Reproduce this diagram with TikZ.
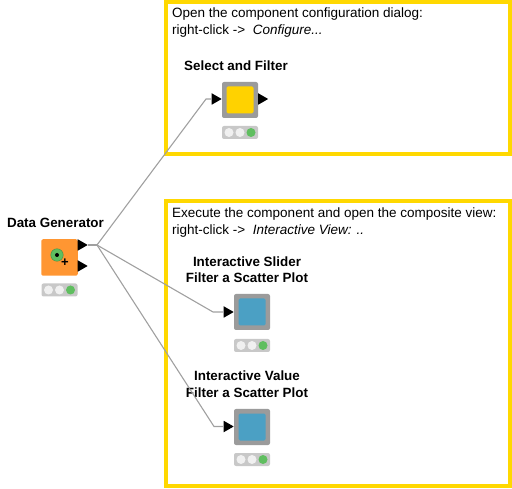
\documentclass[tikz,border=0pt]{standalone}
\usepackage{fontspec}
\usepackage{xcolor}
\setmainfont{Liberation Sans}
\usetikzlibrary{shapes.geometric}
\definecolor{kngold}{RGB}{255,216,0}
\definecolor{knyellow}{RGB}{255,210,0}
\definecolor{knorange}{RGB}{255,150,50}
\definecolor{knblue}{RGB}{75,160,196}
\definecolor{kngray}{RGB}{155,155,155}
\definecolor{knlight}{RGB}{200,200,200}
\definecolor{kndot}{RGB}{240,240,240}
\definecolor{kngreen}{RGB}{95,190,95}
\definecolor{knwire}{RGB}{160,160,160}
\tikzset{
  knframe/.style={draw=kngold, line width=4pt, minimum width=344pt, minimum height=#1, inner sep=0pt},
  knnote/.style={anchor=north west, align=left, inner sep=0pt, font=\fontsize{13.5}{17}\selectfont},
  knlabel/.style={align=center, inner sep=0pt, font=\fontsize{13.4}{16.5}\selectfont\bfseries},
  kncomp/.style={fill=kngray, rounded corners=2pt, minimum size=36pt, inner sep=0pt},
  kninner/.style={fill=#1, rounded corners=1.5pt, minimum size=27pt, inner sep=0pt},
  knstatus/.style={fill=knlight, rounded corners=2pt, minimum width=36pt, minimum height=13pt, inner sep=0pt},
  knlight/.style={fill=kndot, circle, minimum size=9pt, inner sep=0pt},
  knport/.style={fill=black, isosceles triangle, isosceles triangle stretches, minimum width=11.5pt, minimum height=10pt, inner sep=0pt},
  knwire/.style={draw=knwire, line width=1.1pt}
}
\begin{document}
\begin{tikzpicture}[x=1pt, y=-1pt]
  \useasboundingbox (0,0) rectangle (512,489);
  \node[knframe=152pt] (topframe) at (338,78) {};
  \node[knframe=285pt] (botframe) at (338,343.5) {};
  \node[knnote] (topnote) at (172,7.7) {Open the component configuration dialog:\\right-click -\textgreater\ \ \textit{Configure...}};
  \node[knnote] (botnote) at (172,207.7) {Execute the component and open the composite view:\\right-click -\textgreater\ \ \textit{Interactive View: ..}};

  \node[knlabel] (genlabel) at (55.5,222.5) {Data Generator};
  \node[knlabel] (sellabel) at (236,65.7) {Select and Filter};
  \node[knlabel] (slilabel) at (247,269.5) {Interactive Slider\\Filter a Scatter Plot};
  \node[knlabel] (vallabel) at (247,384) {Interactive Value\\Filter a Scatter Plot};

  \node[fill=knorange, rounded corners=2pt, minimum size=36.5pt, inner sep=0pt] (gen) at (59.5,257.5) {};
  \node[fill=kngreen, draw=kngreen!75!black, circle, minimum size=12.5pt, inner sep=0pt] (gendot) at (57,255) {};
  \node[fill=black, circle, minimum size=4pt, inner sep=0pt] (gencore) at (57,255) {};
  \node[inner sep=0pt, font=\fontsize{13}{13}\selectfont\bfseries] (genplus) at (65,262.5) {+};
  \node[kncomp] (sel) at (240,100) {};
  \node[kninner=knyellow] (selin) at (240,100) {};
  \node[kncomp] (sli) at (252,312) {};
  \node[kninner=knblue] (sliin) at (252,312) {};
  \node[kncomp] (val) at (252,427) {};
  \node[kninner=knblue] (valin) at (252,427) {};

  \foreach \s/\cx/\cy in {gen/59.5/290, sel/240/132.5, sli/252/345.5, val/252/459.5} {
    \node[knstatus] (\s stat) at (\cx,\cy) {};
    \node[knlight] (\s a) at (\cx-11,\cy) {};
    \node[knlight] (\s b) at (\cx,\cy) {};
    \node[knlight, fill=kngreen] (\s c) at (\cx+11,\cy) {};
  }

  \node[knport] (genout) at (81,245) {};
  \node[knport] (genalt) at (81,266) {};
  \node[knport] (selport) at (215,99) {};
  \node[knport] (selout) at (261.5,99) {};
  \node[knport] (sliport) at (227,312) {};
  \node[knport] (valport) at (227,426.5) {};

  \coordinate (fork) at (97,245);
  \draw[knwire] (genout.east) -- (fork);
  \draw[knwire] (fork) -- (206,99) -- (selport.west);
  \draw[knwire] (fork) -- (213,312) -- (sliport.west);
  \draw[knwire] (fork) -- (214,426.5) -- (valport.west);
\end{tikzpicture}
\end{document}
